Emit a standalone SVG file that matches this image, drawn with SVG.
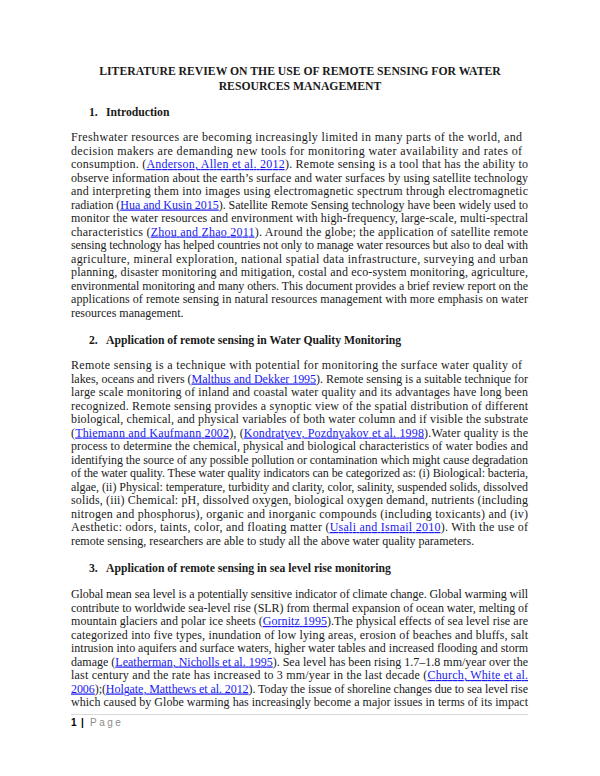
<svg xmlns="http://www.w3.org/2000/svg" width="600" height="776" viewBox="0 0 600 776">
<style>
text{font-family:"Liberation Serif","Times New Roman",serif;font-size:12px;fill:#1a1a1a}
.h{font-weight:bold;font-size:11.7px}
.a{fill:#1a1aee;text-decoration:underline}
</style>
<rect width="600" height="776" fill="#fff"/>
<g id="title">
<text class="h" x="300" y="75" text-anchor="middle">LITERATURE REVIEW ON THE USE OF REMOTE SENSING FOR WATER</text>
<text class="h" x="300" y="90" text-anchor="middle">RESOURCES MANAGEMENT</text>
</g>
<g id="s1">
<text class="h" x="89" y="116">1.</text><text class="h" x="106" y="116">Introduction</text>
<text x="71" y="141" textLength="451" lengthAdjust="spacing">Freshwater resources are becoming increasingly limited in many parts of the world, and</text>
<text x="71" y="154.5" textLength="451" lengthAdjust="spacing">decision makers are demanding new tools for monitoring water availability and rates of</text>
<text x="71" y="168" textLength="457" lengthAdjust="spacing">consumption. (<tspan class="a">Anderson, Allen et al. 2012</tspan>). Remote sensing is a tool that has the ability to</text>
<text x="71" y="181.5" textLength="457" lengthAdjust="spacing">observe information about the earth’s surface and water surfaces by using satellite technology</text>
<text x="71" y="195" textLength="457" lengthAdjust="spacing">and interpreting them into images using electromagnetic spectrum through electromagnetic</text>
<text x="71" y="208.5" textLength="457" lengthAdjust="spacing">radiation (<tspan class="a">Hua and Kusin 2015</tspan>). Satellite Remote Sensing technology have been widely used to</text>
<text x="71" y="222" textLength="457" lengthAdjust="spacing">monitor the water resources and environment with high-frequency, large-scale, multi-spectral</text>
<text x="71" y="235.5" textLength="457" lengthAdjust="spacing">characteristics (<tspan class="a">Zhou and Zhao 2011</tspan>). Around the globe; the application of satellite remote</text>
<text x="71" y="249" textLength="457" lengthAdjust="spacing">sensing technology has helped countries not only to manage water resources but also to deal with</text>
<text x="71" y="262.5" textLength="457" lengthAdjust="spacing">agriculture, mineral exploration, national spatial data infrastructure, surveying and urban</text>
<text x="71" y="276" textLength="457" lengthAdjust="spacing">planning, disaster monitoring and mitigation, costal and eco-system monitoring,  agriculture,</text>
<text x="71" y="289.5" textLength="457" lengthAdjust="spacing">environmental monitoring  and many others. This document provides a brief review report on the</text>
<text x="71" y="303" textLength="457" lengthAdjust="spacing">applications of remote sensing in natural resources management with more emphasis on water</text>
<text x="71" y="316.5">resources management.</text>
</g>
<g id="s2">
<text class="h" x="89" y="344">2.</text><text class="h" x="106" y="344">Application of remote sensing in Water Quality Monitoring</text>
<text x="71" y="369" textLength="451" lengthAdjust="spacing">Remote sensing is a technique with potential for monitoring the surface water quality of</text>
<text x="71" y="382.5" textLength="457" lengthAdjust="spacing">lakes, oceans and rivers (<tspan class="a">Malthus and Dekker 1995</tspan>). Remote sensing is a suitable technique for</text>
<text x="71" y="396" textLength="457" lengthAdjust="spacing">large scale monitoring of inland and coastal water quality and its advantages have long been</text>
<text x="71" y="409.5" textLength="457" lengthAdjust="spacing">recognized. Remote sensing provides a synoptic view of the spatial distribution of different</text>
<text x="71" y="423" textLength="457" lengthAdjust="spacing">biological, chemical, and physical variables of both water column and if visible the substrate</text>
<text x="71" y="436.5" textLength="457" lengthAdjust="spacing">(<tspan class="a">Thiemann and Kaufmann 2002</tspan>), (<tspan class="a">Kondratyev, Pozdnyakov et al. 1998</tspan>).Water quality is the</text>
<text x="71" y="450" textLength="457" lengthAdjust="spacing">process to determine the chemical, physical and biological characteristics of water bodies and</text>
<text x="71" y="463.5" textLength="457" lengthAdjust="spacing">identifying the source of any possible pollution or contamination which might cause degradation</text>
<text x="71" y="477" textLength="457" lengthAdjust="spacing">of the water quality. These water quality indicators can be categorized as: (i) Biological: bacteria,</text>
<text x="71" y="490.5" textLength="457" lengthAdjust="spacing">algae, (ii) Physical: temperature, turbidity and clarity, color, salinity, suspended solids, dissolved</text>
<text x="71" y="504" textLength="457" lengthAdjust="spacing">solids, (iii) Chemical: pH, dissolved oxygen, biological oxygen demand, nutrients (including</text>
<text x="71" y="517.5" textLength="457" lengthAdjust="spacing">nitrogen and phosphorus), organic and inorganic compounds (including toxicants) and (iv)</text>
<text x="71" y="531" textLength="457" lengthAdjust="spacing">Aesthetic: odors, taints, color, and floating matter (<tspan class="a">Usali and Ismail 2010</tspan>). With the use of</text>
<text x="71" y="544.5">remote sensing, researchers are able to study all the above water quality parameters.</text>
</g>
<g id="s3">
<text class="h" x="89" y="572">3.</text><text class="h" x="106" y="572">Application of remote sensing in sea level rise monitoring</text>
<text x="71" y="598" textLength="457" lengthAdjust="spacing">Global mean sea level is a potentially sensitive indicator of climate change. Global warming will</text>
<text x="71" y="611.5" textLength="457" lengthAdjust="spacing">contribute to worldwide sea-level rise (SLR) from thermal expansion of ocean water, melting of</text>
<text x="71" y="625" textLength="457" lengthAdjust="spacing">mountain glaciers and polar ice sheets (<tspan class="a">Gornitz 1995</tspan>).The physical effects of sea level rise are</text>
<text x="71" y="638.5" textLength="457" lengthAdjust="spacing">categorized into five types, inundation of low lying areas, erosion of beaches and bluffs, salt</text>
<text x="71" y="652" textLength="457" lengthAdjust="spacing">intrusion into aquifers and surface waters, higher water tables and increased flooding and storm</text>
<text x="71" y="665.5" textLength="457" lengthAdjust="spacing">damage (<tspan class="a">Leatherman, Nicholls et al. 1995</tspan>). Sea level has been rising 1.7–1.8 mm/year over the</text>
<text x="71" y="679" textLength="457" lengthAdjust="spacing">last century and the rate has increased to 3 mm/year in the last decade (<tspan class="a">Church, White et al.</tspan></text>
<text x="71" y="692.5" textLength="457" lengthAdjust="spacing"><tspan class="a">2006</tspan>);(<tspan class="a">Holgate, Matthews et al. 2012</tspan>). Today the issue of shoreline changes due to sea level rise</text>
<text x="71" y="706" textLength="457" lengthAdjust="spacing">which caused by Globe warming has increasingly become a major issues in terms of its impact</text>
</g>
<g id="footer">
<line x1="71" y1="714.5" x2="528" y2="714.5" stroke="#d9d9d9" stroke-width="1"/>
<text x="71" y="726" style="font-family:'Liberation Sans',Arial,sans-serif;font-size:10px;font-weight:bold;fill:#000">1</text>
<text x="81" y="726" style="font-family:'Liberation Sans',Arial,sans-serif;font-size:10px;font-weight:bold;fill:#000">|</text>
<text x="90" y="726" style="font-family:'Liberation Sans',Arial,sans-serif;font-size:10px;fill:#8c8c8c;letter-spacing:2.5px">Page</text>
</g>
</svg>
